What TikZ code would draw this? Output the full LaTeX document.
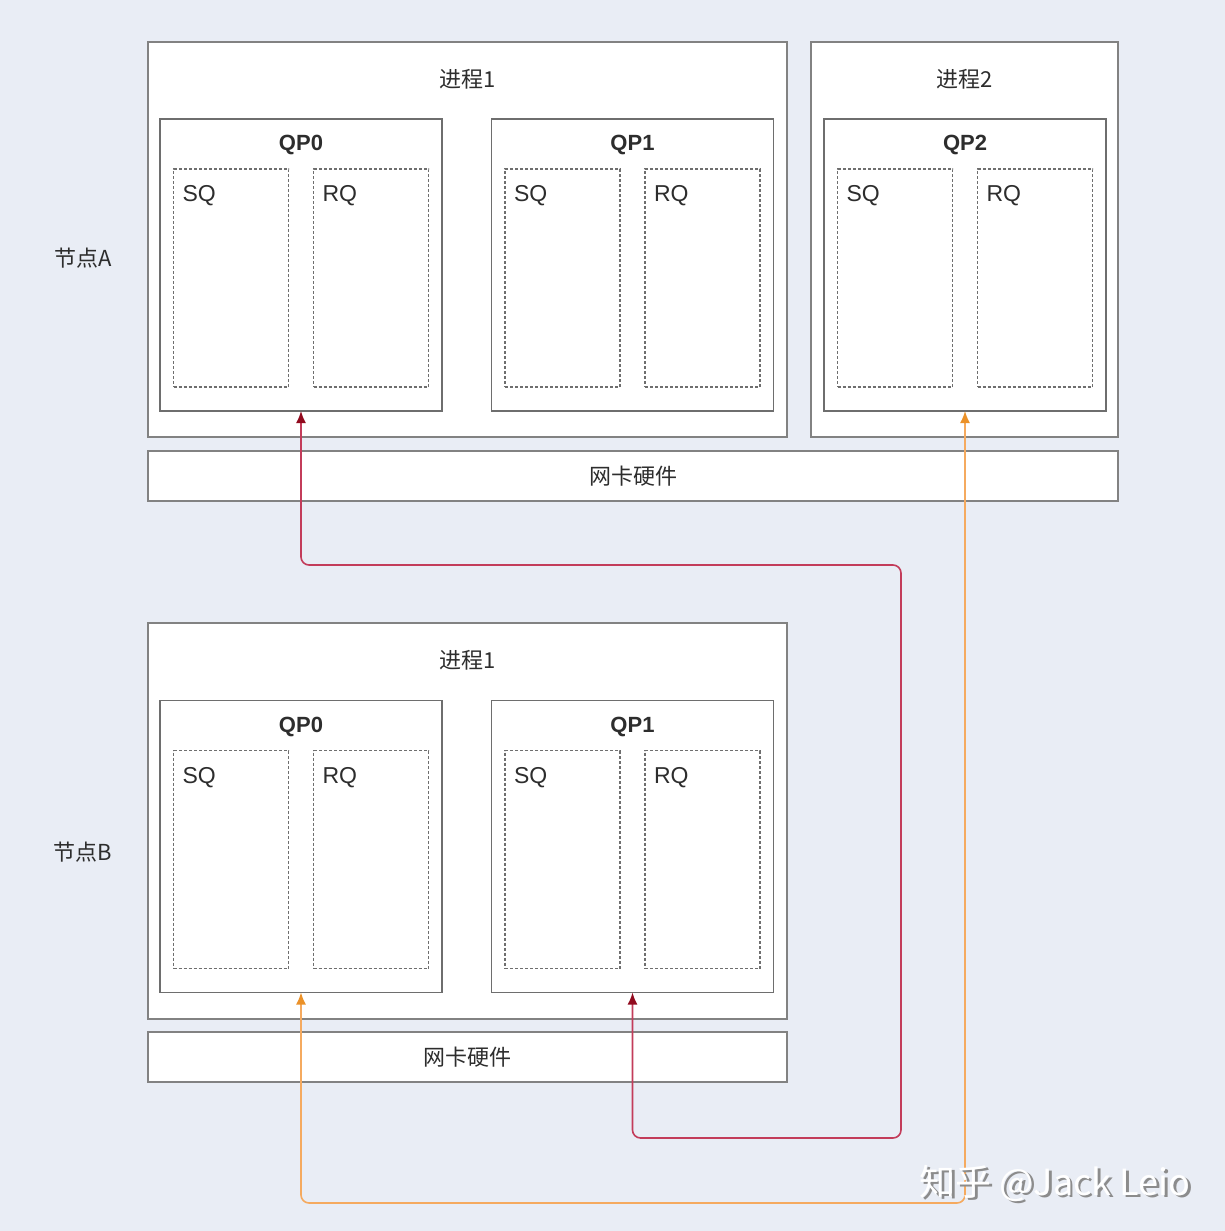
\documentclass[tikz,border=0pt]{standalone}
\usepackage{fontspec}
\setmainfont{Liberation Sans}
\newfontfamily\cjk{Noto Sans CJK SC}
\usepackage{tikz}
\usetikzlibrary{positioning,calc,arrows.meta}
\definecolor{bgblue}{RGB}{233,237,245}
\definecolor{boxgray}{RGB}{130,130,130}
\definecolor{qgray}{RGB}{110,110,110}
\definecolor{txtgray}{RGB}{45,45,45}
\definecolor{linkred}{RGB}{195,60,90}
\definecolor{tipred}{RGB}{145,10,30}
\definecolor{linkorange}{RGB}{245,170,95}
\definecolor{tiporange}{RGB}{235,145,40}

\begin{document}
\begin{tikzpicture}[x=0.5pt,y=-0.5pt]
  \tikzset{every node/.style={inner sep=0pt,outer sep=0pt,text=txtgray}}
  \tikzset{procbox/.style = {draw=boxgray,fill=white,line width=0.85pt}}
  \tikzset{qpbox/.style = {draw=qgray,fill=white,line width=0.85pt,minimum width=141pt,minimum height=146pt}}
  \tikzset{queuebox/.style = {draw=qgray,line width=0.65pt,dash pattern=on 1.5pt off 1pt,minimum width=57.5pt,minimum height=109pt}}
  \tikzset{cntext/.style = {font=\cjk\fontsize{11}{13}\selectfont}}
  \tikzset{qptitle/.style = {font=\bfseries\fontsize{11}{13}\selectfont}}
  \tikzset{qlabel/.style = {anchor=west,font=\fontsize{11.5}{13}\selectfont}}
  \tikzset{link/.style = {line width=0.8pt,rounded corners=4pt}}

  \useasboundingbox (0,0) rectangle (1225,1231);
  \fill[bgblue] (0,0) rectangle (1225,1231);

  % node A
  \node[procbox,minimum width=319.5pt,minimum height=197.5pt] (procA1) at (467.5,239.5) {};
  \node[procbox,minimum width=153.5pt,minimum height=197.5pt] (procA2) at (964.5,239.5) {};
  \node[procbox,minimum width=485pt,minimum height=25pt] (nicA) at (633,476) {};
  \node[cntext] (nicAlbl) at (nicA) {网卡硬件};
  \node[cntext] (procA1lbl) at ($(procA1.north)+(0,37)$) {进程1};
  \node[cntext] (procA2lbl) at ($(procA2.north)+(0,37)$) {进程2};
  \node[cntext] (nodeA) at (83,258) {节点A};

  % node B
  \node[procbox,minimum width=319.5pt,minimum height=198pt] (procB1) at (467.5,821) {};
  \node[procbox,minimum width=319.5pt,minimum height=25pt] (nicB) at (467.5,1057) {};
  \node[cntext] (nicBlbl) at (nicB) {网卡硬件};
  \node[cntext] (procB1lbl) at ($(procB1.north)+(0,37)$) {进程1};
  \node[cntext] (nodeB) at (83,852) {节点B};

  % queue pairs
  \foreach \n/\x/\y/\t in {qpA0/301/265/QP0, qpA1/632.5/265/QP1, qpA2/965/265/QP2,
                           qpB0/301/846.5/QP0, qpB1/632.5/846.5/QP1}{
    \node[qpbox] (\n) at (\x,\y) {};
    \node[qptitle] (\n title) at ($(\n.north)+(0,26)$) {\t};
    \node[queuebox] (\n sq) at ($(\n.center)+(-70,13)$) {};
    \node[queuebox] (\n rq) at ($(\n.center)+(70,13)$) {};
    \node[qlabel] (\n sqlbl) at ($(\n sq.north west)+(9,27)$) {SQ};
    \node[qlabel] (\n rqlbl) at ($(\n rq.north west)+(9,27)$) {RQ};
  }

  % links
  \coordinate (redturn) at (901,565);
  \coordinate (redbottom) at (901,1138);
  \coordinate (orangeturn) at (965,1203);
  \draw[link,draw=linkred,{Latex[length=6pt,width=5pt,color=tipred]}-{Latex[length=6pt,width=5pt,color=tipred]}]
    (qpA0.south) |- (redturn) -- (redbottom) -| (qpB1.south);
  \draw[link,draw=linkorange,{Latex[length=6pt,width=5pt,color=tiporange]}-{Latex[length=6pt,width=5pt,color=tiporange]}]
    (qpB0.south) |- (orangeturn) -- (qpA2.south);

  % watermark
  \node[font=\cjk\fontsize{18}{20}\selectfont,text=black!45] (wmshadow) at (1057.5,1185.5) {知乎 @Jack Leio};
  \node[font=\cjk\fontsize{18}{20}\selectfont,text=white] (wm) at (1055,1183) {知乎 @Jack Leio};
\end{tikzpicture}
\end{document}
